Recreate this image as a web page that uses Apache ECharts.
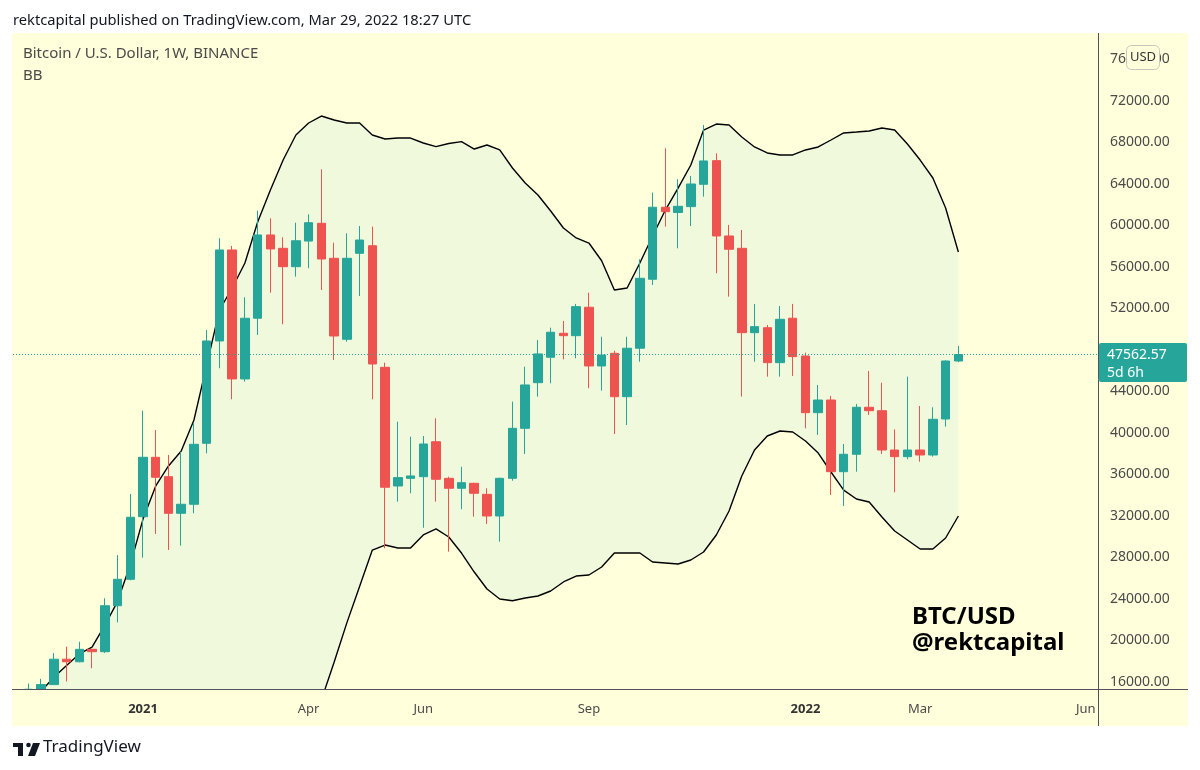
<!DOCTYPE html>
<html>
<head>
<meta charset="utf-8">
<script src="https://cdn.jsdelivr.net/npm/echarts@6/dist/echarts.min.js"></script>
<style>
  html, body { margin: 0; padding: 0; background: #ffffff; }
  #chart { width: 1200px; height: 770px; }
</style>
</head>
<body>
<div id="chart"></div>
<script>
// weekly candles, index 1 = week of 2 Nov 2020 ... index 74 = week of 28 Mar 2022
const firstIndex = 1;
const open = [13800, 15300, 15750, 18200, 17950, 19150, 18920, 23350, 25900, 31930,
  37660, 35790, 32260, 33130, 39010, 48870, 57640, 45210, 51060, 59090,
  57800, 56030, 58500, 60210, 56840, 49030, 57320, 58050, 46330, 34890,
  35630, 35790, 39160, 35630, 34670, 35150, 34090, 32000, 35630, 40450,
  44850, 47300, 49610, 49380, 52120, 46460, 47680, 43500, 48170, 54820,
  61760, 61250, 61820, 63970, 66250, 58990, 57800, 49670, 50150, 46780,
  51060, 47420, 41960, 43180, 36270, 37950, 42480, 42150, 38360, 37720,
  38360, 37880, 41350, 46940];
const close = [15300, 15750, 18200, 17950, 19150, 18920, 23350, 25900, 31880, 37660,
  35730, 32260, 33130, 38910, 48870, 57640, 45210, 51060, 59090, 57740,
  56030, 58530, 60270, 56770, 49350, 56840, 58600, 46650, 34770, 35700,
  35860, 38940, 35540, 34670, 35210, 34190, 32000, 35630, 40450, 44630,
  47620, 49710, 49380, 52180, 46460, 47520, 43500, 48170, 54910, 61760,
  61330, 61850, 64000, 66220, 58990, 57710, 49670, 50250, 46780, 50960,
  47360, 41960, 43180, 36270, 37950, 42480, 42150, 38360, 37720, 38360,
  37880, 41320, 46940, 47562.57];
const high = [15850, 16300, 18780, 19400, 19880, 19200, 24070, 28240, 34120, 42150,
  40290, 37880, 38200, 40960, 49930, 58770, 58030, 53080, 61430, 60700,
  58860, 60270, 61080, 65420, 58350, 59250, 59950, 59890, 46780, 41090,
  39640, 39710, 41420, 35790, 36750, 35210, 34670, 35700, 43020, 46390,
  48960, 50150, 50800, 52440, 53520, 49280, 47930, 49280, 56740, 63170,
  67440, 64460, 64770, 69690, 66960, 60050, 59570, 52440, 50410, 52240,
  52440, 47740, 44630, 43570, 38940, 42800, 45980, 44850, 40350, 45430,
  42600, 42480, 47000, 48390];
const low = [13200, 14800, 15700, 16050, 17900, 17320, 18800, 21750, 25800, 27980,
  30270, 28720, 29150, 32260, 38040, 46240, 43250, 44950, 49450, 53520,
  50480, 55070, 55880, 53780, 47040, 48800, 53200, 43250, 28890, 33380,
  34190, 30870, 33380, 28560, 32650, 31930, 31230, 29520, 35400, 37980,
  43500, 44790, 47100, 47200, 44310, 44080, 39900, 40770, 46870, 54270,
  59890, 57800, 59950, 62780, 55400, 53140, 43500, 46870, 45430, 45430,
  45500, 40450, 39810, 34020, 32960, 36270, 41740, 37980, 34280, 37470,
  37230, 37720, 40610, 46820];

// Bollinger bands, index 0 .. 74
const bbUpper = [13500, 14200, 15100, 16450, 17600, 18700, 19370, 21450, 23750, 27300,
  31700, 34900, 36820, 38265, 41250, 46550, 51850, 53975, 56390, 60340,
  63420, 66310, 68720, 69880, 70550, 70170, 69880, 69880, 68720, 68340,
  68430, 68430, 67950, 67600, 67900, 68080, 67370, 67760, 67280, 65540,
  64100, 62940, 61400, 59760, 58800, 58310, 56600, 53780, 53975, 56390,
  58990, 61490, 63610, 65830, 69200, 69780, 69690, 68530, 67570, 66990,
  66800, 66800, 67280, 67570, 68240, 68920, 69010, 69110, 69400, 69200,
  67860, 66310, 64580, 61690, 57450];
const bbLower = [null, null, null, null, null, null, null, null, null, null,
  null, null, null, null, null, null, null, null, null, null,
  null, null, null, 9000, 14265, 17900, 21700, 25200, 28720, 29200,
  28915, 28915, 30170, 30750, 29975, 28430, 26600, 24960, 24000, 23836,
  24100, 24290, 24770, 25640, 26215, 26313, 27084, 28430, 28430, 28430,
  27566, 27470, 27373, 27760, 28530, 30170, 32480, 35855, 38360, 39710,
  40190, 40100, 39230, 38070, 36240, 34500, 33640, 33350, 31900, 30550,
  29690, 28820, 28820, 29880, 32000];

const timeTickPos = [10, 23, 32, 45, 62, 71, 84];
const timeTickText = ["2021", "Apr", "Jun", "Sep", "2022", "Mar", "Jun"];
const priceTicks = [16000, 20000, 24000, 28000, 32000, 36000, 40000, 44000, 48000,
  52000, 56000, 60000, 64000, 68000, 72000, 76000];

const UP = "#26a69a";
const DOWN = "#ef5350";
const PANEL = "#ffffdc";
const BAND_FILL = "#f0f9dc";
const FONT = "'Noto Sans', sans-serif";

const chart = echarts.init(document.getElementById("chart"));

const candles = open.map((o, k) => [k + firstIndex, o, close[k], low[k], high[k]]);
const upperLine = bbUpper.map((v, k) => [k, v]);
const lowerLine = bbLower.map((v, k) => [k, v]);
const lastClose = close[close.length - 1];

function staticGraphics() {
  return [
    { type: "rect", z: -10, shape: { x: 12, y: 33, width: 1176, height: 693 }, style: { fill: PANEL } },
    // hides whatever pokes below the time axis line
    { type: "rect", z: 50, shape: { x: 12, y: 690, width: 1086, height: 36 }, style: { fill: PANEL } },
    { type: "text", z: 100, left: 13, top: 13,
      style: { text: "rektcapital published on TradingView.com, Mar 29, 2022 18:27 UTC", font: "14.7px " + FONT, fill: "#131722" } },
    { type: "text", z: 100, left: 23, top: 46,
      style: { text: "Bitcoin / U.S. Dollar, 1W, BINANCE", font: "15px " + FONT, fill: "#4a4a4a" } },
    { type: "text", z: 100, left: 23, top: 68, style: { text: "BB", font: "15px " + FONT, fill: "#4a4a4a" } },
    { type: "line", z: 100, shape: { x1: 12, y1: 689.5, x2: 1188, y2: 689.5 }, style: { stroke: "#50535e", lineWidth: 1 } },
    { type: "line", z: 100, shape: { x1: 1098.5, y1: 33, x2: 1098.5, y2: 726 }, style: { stroke: "#50535e", lineWidth: 1 } },
    { type: "rect", z: 100, shape: { x: 1126.5, y: 45.5, width: 33, height: 24, r: 5 }, style: { fill: PANEL, stroke: "#c8c8c0", lineWidth: 1 } },
    { type: "text", z: 101, x: 1143, y: 57.5,
      style: { text: "USD", font: "13px " + FONT, fill: "#333333", align: "center", verticalAlign: "middle" } },
    { type: "text", z: 100, left: 912, top: 604,
      style: { text: "BTC/USD\n@rektcapital", font: "bold 24px " + FONT, fill: "#000000", lineHeight: 26 } },
    // TradingView footer
    { type: "rect", z: 100, shape: { x: 13, y: 743, width: 10, height: 4 }, style: { fill: "#131722" } },
    { type: "rect", z: 100, shape: { x: 18, y: 743, width: 5, height: 13 }, style: { fill: "#131722" } },
    { type: "circle", z: 100, shape: { cx: 28.5, cy: 745, r: 2.3 }, style: { fill: "#131722" } },
    { type: "polygon", z: 100, shape: { points: [[33, 743], [40, 743], [35, 756], [28, 756]] }, style: { fill: "#131722" } },
    { type: "text", z: 100, left: 43, top: 739, style: { text: "TradingView", font: "17px " + FONT, fill: "#131722" } },
  ];
}

chart.setOption({
  animation: false,
  backgroundColor: "#ffffff",
  grid: { left: 13, right: 102, top: 33, bottom: 81, containLabel: false },
  xAxis: {
    type: "value",
    z: 60,
    min: -0.204,
    max: 84.96,
    axisLine: { show: false },
    axisTick: { show: false },
    splitLine: { show: false },
    axisLabel: {
      customValues: timeTickPos,
      margin: 14,
      fontFamily: FONT,
      fontSize: 13,
      color: "#4a4a4a",
      formatter: (v) => {
        const t = timeTickText[timeTickPos.indexOf(v)];
        return /^\d{4}$/.test(t) ? "{y|" + t + "}" : t;
      },
      rich: { y: { fontFamily: FONT, fontSize: 13, fontWeight: "bold", color: "#333333" } },
    },
  },
  yAxis: {
    type: "value",
    z: 60,
    position: "right",
    min: 15325,
    max: 78554,
    axisLine: { show: false },
    axisTick: { show: false },
    splitLine: { show: false },
    axisLabel: {
      customValues: priceTicks,
      margin: 12,
      fontFamily: FONT,
      fontSize: 14,
      color: "#4a4a4a",
      formatter: (v) => v.toFixed(2),
    },
  },
  series: [
    {
      type: "line",
      data: upperLine,
      symbol: "none",
      z: 1,
      clip: true,
      lineStyle: { color: "#000000", width: 1.4 },
      areaStyle: { color: BAND_FILL, origin: "start", opacity: 1 },
    },
    {
      type: "line",
      data: lowerLine,
      symbol: "none",
      z: 1,
      clip: true,
      lineStyle: { color: "#000000", width: 1.4 },
      areaStyle: { color: PANEL, origin: "start", opacity: 1 },
    },
    {
      type: "candlestick",
      data: candles,
      barWidth: 9,
      z: 3,
      clip: true,
      itemStyle: { color: UP, color0: DOWN, borderColor: UP, borderColor0: DOWN, borderWidth: 1 },
      markLine: {
        silent: true,
        symbol: "none",
        label: { show: false },
        lineStyle: { color: UP, type: [1, 2], width: 1 },
        data: [{ yAxis: lastClose }],
      },
    },
  ],
  graphic: staticGraphics(),
});

// price tag on the right scale, placed where the last close sits
const py = chart.convertToPixel({ yAxisIndex: 0 }, lastClose);
chart.setOption({
  graphic: staticGraphics().concat([
    { type: "rect", z: 102, shape: { x: 1099, y: Math.round(py) - 12, width: 88, height: 39, r: 2 }, style: { fill: UP } },
    { type: "text", z: 103, x: 1107, y: py,
      style: { text: lastClose.toFixed(2), font: "14px " + FONT, fill: "#ffffff", verticalAlign: "middle" } },
    { type: "text", z: 103, x: 1107, y: py + 18,
      style: { text: "5d 6h", font: "14px " + FONT, fill: "#ffffff", verticalAlign: "middle" } },
  ]),
}, { replaceMerge: ["graphic"] });
</script>
</body>
</html>
